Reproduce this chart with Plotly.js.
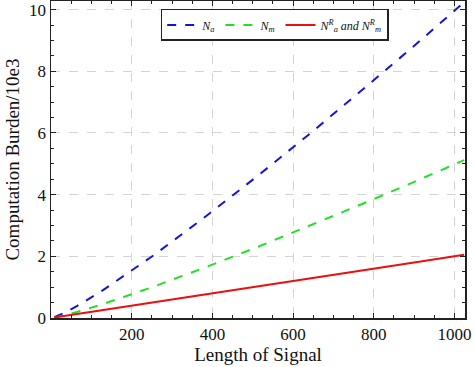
<!DOCTYPE html>
<html><head><meta charset="utf-8">
<script src="https://cdn.plot.ly/plotly-3.0.1.min.js"></script>
<style>
body{margin:0;background:#fff}
</style>
</head><body>
<div id="chart" style="width:474px;height:367px"></div>
<script>
const signalLength = [8, 16, 32, 64, 128, 256, 384, 512, 640, 768, 896, 1024];
const burdenNa = [0.024, 0.064, 0.16, 0.384, 0.896, 2.048, 3.30, 4.608, 5.96, 7.36, 8.78, 10.24];
const burdenNm = [0.012, 0.032, 0.08, 0.192, 0.448, 1.024, 1.65, 2.304, 2.98, 3.68, 4.39, 5.12];
const burdenR  = [0.016, 0.032, 0.064, 0.128, 0.256, 0.512, 0.768, 1.024, 1.28, 1.536, 1.792, 2.048];
const xTickVals = [0, 200, 400, 600, 800, 1000];
const xTickText = ['', '200', '400', '600', '800', '1000'];
const yTickVals = [0, 2, 4, 6, 8, 10];
const yTickText = ['0', '2', '4', '6', '8', '10'];
const names = ['<i>N</i><sub><i>a</i></sub>', '<i>N</i><sub><i>m</i></sub>', '<i>N</i><sup><i>R</i></sup><sub><i>a</i></sub><i> and </i><i>N</i><sup><i>R</i></sup><sub><i>m</i></sub>'];

const font = '"Liberation Serif", "DejaVu Serif", serif';
const traces = [
  {x: signalLength, y: burdenNa, name: names[0], mode: 'lines', line: {color: '#1414d8', width: 2, dash: 'dash'}},
  {x: signalLength, y: burdenNm, name: names[1], mode: 'lines', line: {color: '#22e022', width: 2, dash: 'dash'}},
  {x: signalLength, y: burdenR, name: names[2], mode: 'lines', line: {color: '#e81010', width: 2}}
];
const axisCommon = {
  showline: true, linecolor: '#222', linewidth: 1.5, mirror: 'ticks',
  ticks: 'inside', ticklen: 5, tickcolor: '#222', tickwidth: 1,
  showgrid: true, gridcolor: '#d4d4d4', griddash: 'dash', gridwidth: 1,
  zeroline: false, tickfont: {family: font, size: 17, color: '#111'}
};
const layout = {
  width: 474, height: 367,
  margin: {l: 51, r: 9, t: 1, b: 49},
  paper_bgcolor: '#fff', plot_bgcolor: '#fff',
  font: {family: font, color: '#111'},
  showlegend: true,
  legend: {
    orientation: 'h', x: 0.265, y: 0.975, xanchor: 'left', yanchor: 'top',
    bgcolor: '#fff', bordercolor: '#222', borderwidth: 1.5,
    font: {family: font, size: 12, color: '#111'},
    itemwidth: 30, tracegroupgap: 0
  },
  xaxis: Object.assign({}, axisCommon, {
    range: [0, 1026], tickmode: 'array', tickvals: xTickVals, ticktext: xTickText,
    minor: {dtick: 50, tick0: 0, ticks: 'inside', ticklen: 3, tickcolor: '#222', showgrid: false},
    title: {text: 'Length of Signal', font: {family: font, size: 19, color: '#111'}, standoff: 2}
  }),
  yaxis: Object.assign({}, axisCommon, {
    range: [0, 10.28], tickmode: 'array', tickvals: yTickVals, ticktext: yTickText,
    minor: {dtick: 0.5, tick0: 0, ticks: 'inside', ticklen: 3, tickcolor: '#222', showgrid: false},
    title: {text: 'Computation Burden/10e3', font: {family: font, size: 19, color: '#111'}, standoff: 4}
  })
};
Plotly.newPlot('chart', traces, layout, {displayModeBar: false, staticPlot: true});
</script>
</body></html>
